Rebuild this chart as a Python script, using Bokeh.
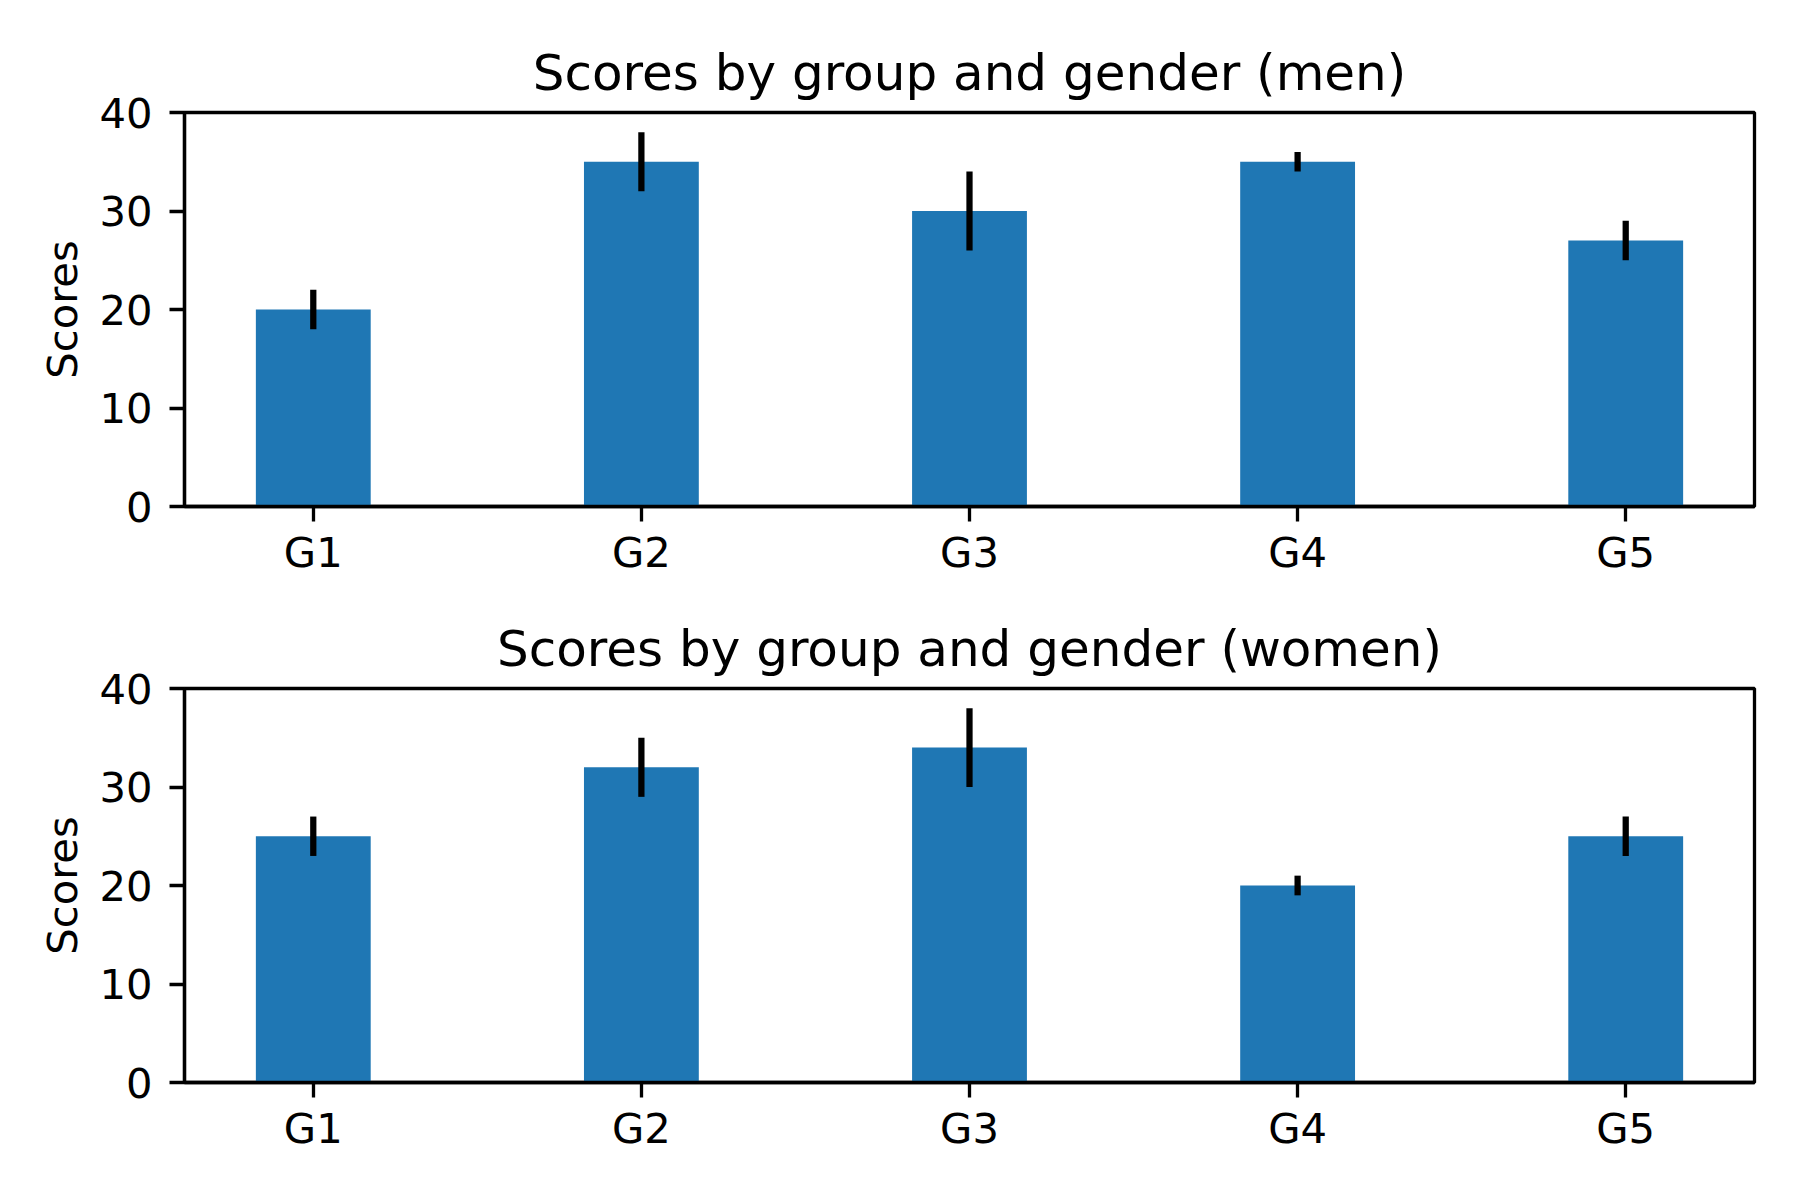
from bokeh.plotting import figure
from bokeh.layouts import column
from bokeh.models import FixedTicker, Range1d
from bokeh.embed import file_html
from bokeh.resources import INLINE

groups = ["G1", "G2", "G3", "G4", "G5"]
men_means = [20, 35, 30, 35, 27]
men_std = [2, 3, 4, 1, 2]
women_means = [25, 32, 34, 20, 25]
women_std = [2, 3, 4, 1, 2]
y_ticks = [0, 10, 20, 30, 40]

FONT = "DejaVu Sans"
TICK_FS = "41.7px"


def make_fig(title, means, stds, height, border_top, border_bottom):
    xs = list(range(len(groups)))
    p = figure(width=1784, height=height,
               x_range=Range1d(-0.3925, len(groups) - 1 + 0.3925),
               y_range=Range1d(0, 40),
               output_backend="svg", toolbar_location=None,
               min_border_left=184, min_border_right=30,
               min_border_top=border_top, min_border_bottom=border_bottom)
    p.vbar(x=xs, top=means, width=0.35, fill_color="#1f77b4", line_color=None)
    p.segment(x0=xs, y0=[m - s for m, s in zip(means, stds)],
              x1=xs, y1=[m + s for m, s in zip(means, stds)],
              line_color="black", line_width=6.25)
    p.xgrid.visible = False
    p.ygrid.visible = False
    p.outline_line_color = "black"
    p.outline_line_width = 3.3
    p.outline_line_alpha = 1.0
    p.background_fill_color = "white"
    p.border_fill_color = "white"

    p.xaxis.ticker = FixedTicker(ticks=xs)
    p.xaxis.major_label_overrides = {i: g for i, g in zip(xs, groups)}
    p.yaxis.ticker = FixedTicker(ticks=y_ticks)
    p.yaxis.axis_label = "Scores"
    for ax in (p.xaxis, p.yaxis):
        ax.axis_line_color = "black"
        ax.axis_line_width = 3.3
        ax.major_tick_line_color = "black"
        ax.major_tick_line_width = 3.3
        ax.major_tick_out = 15
        ax.major_tick_in = 0
        ax.minor_tick_out = 0
        ax.minor_tick_in = 0
        ax.major_label_text_font = FONT
        ax.major_label_text_font_size = TICK_FS
        ax.major_label_text_color = "black"
        ax.axis_label_text_font = FONT
        ax.axis_label_text_font_size = TICK_FS
        ax.axis_label_text_font_style = "normal"
        ax.axis_label_text_color = "black"
    p.xaxis.major_label_standoff = 6
    p.yaxis.major_label_standoff = 17
    p.yaxis.axis_label_standoff = 9

    p.title.text = title
    p.title.align = "center"
    p.title.text_font = FONT
    p.title.text_font_size = "50px"
    p.title.text_font_style = "normal"
    p.title.text_color = "black"
    p.title.standoff = 22
    return p


p1 = make_fig("Scores by group and gender (men)", men_means, men_std, 600, 112, 94)
p2 = make_fig("Scores by group and gender (women)", women_means, women_std, 584, 88, 102)

layout = column(p1, p2, spacing=0)
open("out.html", "w").write(file_html(layout, INLINE))
